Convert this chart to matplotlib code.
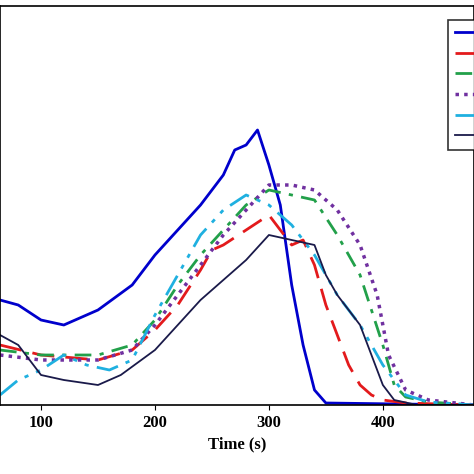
import numpy as np
import matplotlib
matplotlib.use('Agg')
import matplotlib.pyplot as plt

plt.rcParams['font.family'] = ['Liberation Serif', 'DejaVu Serif']

# time points (s) and readings for each trace
t_blue = [64, 80, 100, 120, 150, 180, 200, 220, 240, 260, 270, 280, 290, 300, 310, 320, 330, 340, 350, 480]
y_blue = [105, 100, 85, 80, 95, 120, 150, 175, 200, 230, 255, 260, 275, 240, 200, 120, 60, 15, 2, 0]
t_red = [64, 100, 150, 180, 200, 220, 240, 250, 260, 280, 300, 310, 320, 330, 340, 350, 360, 370, 380, 390, 400, 420, 480]
y_red = [60, 50, 45, 55, 75, 100, 135, 155, 160, 175, 190, 175, 160, 165, 140, 100, 70, 40, 20, 10, 5, 2, 0]
t_green = [64, 100, 150, 180, 200, 220, 240, 260, 280, 300, 320, 340, 360, 380, 400, 410, 420, 440, 480]
y_green = [55, 50, 50, 60, 85, 120, 150, 175, 200, 215, 210, 205, 170, 130, 60, 20, 8, 3, 0]
t_purple = [64, 100, 150, 180, 200, 220, 240, 260, 280, 300, 320, 340, 360, 380, 395, 405, 420, 440, 480]
y_purple = [50, 45, 45, 55, 80, 110, 140, 170, 195, 220, 220, 215, 195, 160, 110, 50, 15, 5, 0]
t_cyan = [64, 80, 100, 120, 140, 160, 180, 200, 220, 240, 260, 280, 300, 320, 340, 360, 380, 400, 420, 440, 480]
y_cyan = [10, 25, 35, 50, 40, 35, 45, 90, 130, 170, 195, 210, 200, 180, 150, 110, 80, 40, 10, 3, 0]
t_navy = [64, 80, 100, 120, 150, 170, 200, 220, 240, 260, 280, 300, 320, 340, 350, 360, 380, 390, 400, 410, 430, 480]
y_navy = [70, 60, 30, 25, 20, 30, 55, 80, 105, 125, 145, 170, 165, 160, 130, 110, 80, 50, 20, 5, 0, 0]
labels = ['Case 1', 'Case 2', 'Case 3', 'Case 4', 'Case 5', 'Case 6']

fig = plt.figure(figsize=(4.74, 4.74), dpi=100)
ax = fig.add_axes([0.0, 69 / 474, 1.0, 399 / 474])

ax.plot(t_blue, y_blue, color='#0000cc', lw=2, label=labels[0])
ax.plot(t_red, y_red, color='#e31a1c', lw=2, ls=(0, (8, 4)), label=labels[1])
ax.plot(t_green, y_green, color='#22a04a', lw=2, ls=(0, (6, 3, 1.5, 3)), label=labels[2])
ax.plot(t_purple, y_purple, color='#7030a0', lw=2.5, ls=(0, (1, 1.5)), label=labels[3])
ax.plot(t_cyan, y_cyan, color='#1fb0e0', lw=2, ls=(0, (8, 3, 1.5, 3, 1.5, 3)), label=labels[4])
ax.plot(t_navy, y_navy, color='#1a1a4a', lw=1.3, label=labels[5])

ax.set_xlim(64, 480)
ax.set_ylim(0, 399)
ax.set_xticks([100, 200, 300, 400])
ax.set_yticks([])
for lab in ax.get_xticklabels():
    lab.set_fontweight('bold')
    lab.set_fontsize(12)
ax.set_xlabel('Time (s)', fontweight='bold', fontsize=12)
for s in ax.spines.values():
    s.set_linewidth(1.2)

leg = fig.legend(loc='upper left', bbox_to_anchor=(448 / 474, 1 - 20 / 474),
                 borderaxespad=0, handlelength=2.2, fontsize=10, frameon=True,
                 fancybox=False, edgecolor='black', labelspacing=0.55,
                 borderpad=0.5, handletextpad=0.5)
leg.get_frame().set_linewidth(1.2)

fig.savefig('out.png', dpi=100)
